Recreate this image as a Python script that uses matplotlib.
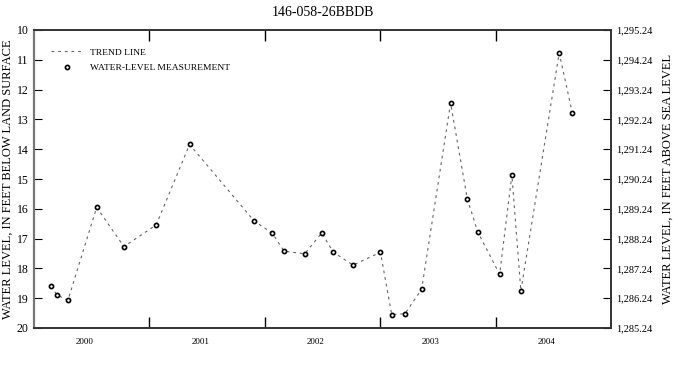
import matplotlib
matplotlib.use('Agg')
import matplotlib.pyplot as plt
import numpy as np

plt.rcParams['font.family'] = ['Liberation Serif', 'DejaVu Serif']

# decimal year of each measurement, depth below land surface (ft)
dates = [2000.147, 2000.199, 2000.294, 2000.543, 2000.779, 2001.059, 2001.348,
         2001.908, 2002.063, 2002.167, 2002.346, 2002.494, 2002.592, 2002.765,
         2003.002, 2003.100, 2003.215, 2003.359, 2003.610, 2003.755, 2003.847,
         2004.035, 2004.141, 2004.219, 2004.551, 2004.664]
levels = [18.60, 18.89, 19.07, 15.95, 17.27, 16.54, 13.84,
          16.41, 16.81, 17.42, 17.51, 16.81, 17.45, 17.89,
          17.46, 19.55, 19.52, 18.70, 12.45, 15.67, 16.79,
          18.20, 14.86, 18.76, 10.77, 12.77]
years = [2000, 2001, 2002, 2003, 2004]
land_surface = 1305.24

fig = plt.figure(figsize=(6.73, 3.81), dpi=100)
ax = fig.add_axes([34/673, 1-328/381, 577/673, 298/381])

ax.plot(dates, levels, color='#666666', lw=0.8, dashes=(2.5, 3.5), label='TREND LINE')
ax.plot(dates, levels, ls='none', marker='o', ms=3.0, mfc='white', mec='black',
        mew=1.2, label='WATER-LEVEL MEASUREMENT')

ax.set_xlim(2000, 2005)
ax.set_ylim(20, 10)
ax.set_yticks(np.arange(10, 21, 1))
ax.tick_params(axis='y', direction='in', length=6, labelsize=8.5, pad=4)

# year boundaries as ticks, labels centred-ish in each year
ax.set_xticks([2001, 2002, 2003, 2004])
ax.set_xticklabels([])
ax.tick_params(axis='x', direction='in', length=8, top=True, width=1)
for y in years:
    ax.text(y + 0.44, -0.035, str(y), transform=ax.get_xaxis_transform(),
            ha='center', va='top', fontsize=6.5)

for s in ax.spines.values():
    s.set_linewidth(1.2)
    s.set_color('#333333')
ax.spines['left'].set_color('#777777')
ax.spines['left'].set_linewidth(1.6)

ax.set_ylabel('WATER LEVEL, IN FEET BELOW LAND SURFACE', fontsize=9, labelpad=2)

ax2 = ax.twinx()
ax2.set_ylim(land_surface - 20, land_surface - 10)
ax2.set_yticks(land_surface - np.arange(20, 9, -1))
ax2.set_yticklabels(['{:,.2f}'.format(v) for v in land_surface - np.arange(20, 9, -1)])
ax2.tick_params(axis='y', direction='in', length=6, labelsize=7.5, pad=4)
ax2.set_ylabel('WATER LEVEL, IN FEET ABOVE SEA LEVEL', fontsize=9, labelpad=6)
for s in ['top', 'bottom', 'right']:
    ax2.spines[s].set_linewidth(1.2)
    ax2.spines[s].set_color('#333333')
ax2.spines['left'].set_visible(False)

ax.set_title('146-058-26BBDB', fontsize=10, pad=10)

leg = ax.legend(loc='upper left', frameon=False, fontsize=6.8, borderpad=0,
                bbox_to_anchor=(0.022, 0.955), handlelength=3.3,
                handletextpad=0.8, labelspacing=0.75)

fig.savefig('out.png', dpi=100)
